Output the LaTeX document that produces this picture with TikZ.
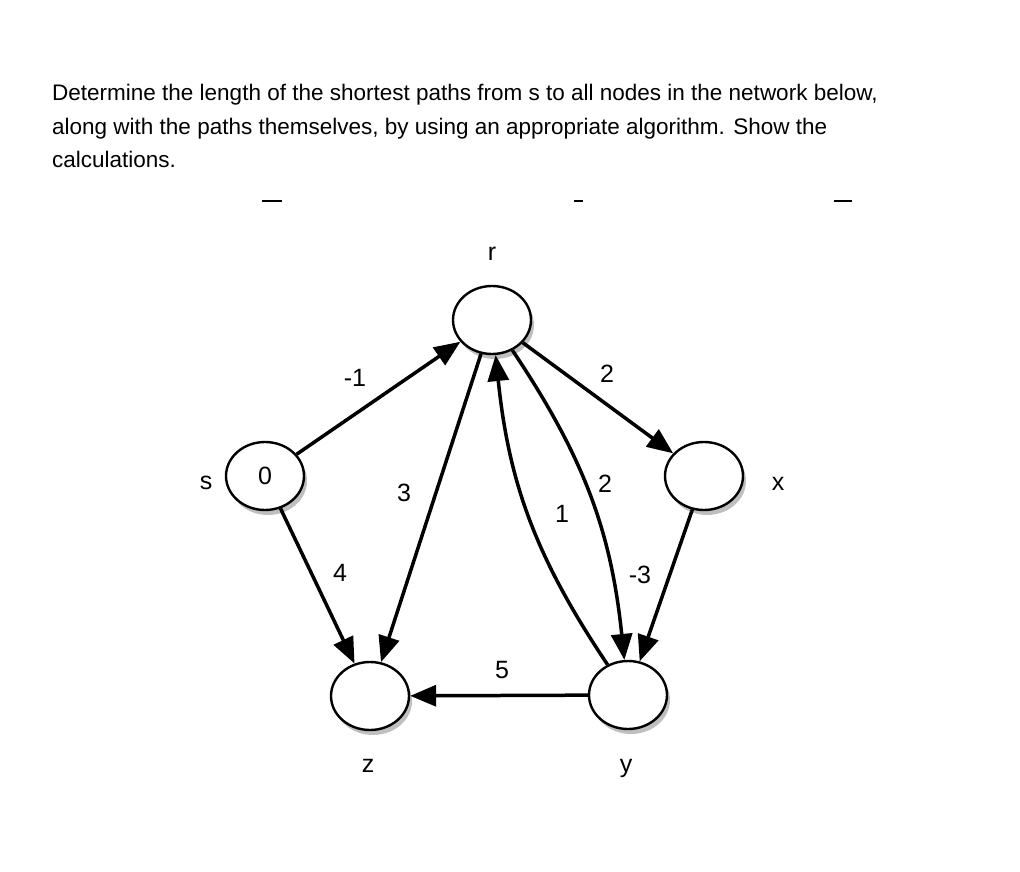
\documentclass[tikz,border=0pt]{standalone}
\usepackage{fontspec}
\setmainfont{Liberation Sans}
\usetikzlibrary{arrows.meta,shadows,shapes.geometric}
\begin{document}
\begin{tikzpicture}[x=1pt,y=-1pt,
  vert/.style={draw,line width=2.4pt,fill=white,ellipse,minimum width=78pt,minimum height=68pt,
    drop shadow={shadow xshift=3pt,shadow yshift=-5pt,opacity=0.5}},
  edge/.style={line width=3.5pt,-{Triangle[length=26pt,width=21pt]}},
  lab/.style={font=\fontsize{25}{25}\selectfont},
  txt/.style={font=\fontsize{22.5}{33.5}\selectfont,anchor=north west,align=left,inner sep=0pt}]
\useasboundingbox (0,0) rectangle (1020,872);
\node[txt] (q) at (52,84) {Determine the length of the shortest paths from s to all nodes in the network below,\\along with the paths themselves, by using an appropriate algorithm. Show the\\calculations.};
\draw[line width=2.5pt] (262,201) -- (282,201);
\draw[line width=2.5pt] (574,201) -- (583,201);
\draw[line width=2.5pt] (834,201) -- (852,201);
\node[vert,lab] (s) at (265,476) {0};
\node[vert] (r) at (492,320) {};
\node[vert] (x) at (704,476) {};
\node[vert] (z) at (370,696) {};
\node[vert] (y) at (628,695) {};
\node[lab] (ls) at (206,483) {s};
\node[lab] (lr) at (492,254) {r};
\node[lab] (lx) at (778,484) {x};
\node[lab] (lz) at (368,766) {z};
\node[lab] (ly) at (626,768) {y};
\draw[edge] (s) -- (r);
\draw[edge] (s) -- (z);
\draw[edge] (r) -- (z);
\draw[edge] (r) -- (x);
\draw[edge] (x) -- (y);
\draw[edge] (y) -- (z);
\draw[edge] (r) to[bend left=14] (y);
\draw[edge] (y) to[bend left=14] (r);
\node[lab] (e1) at (355,378) {-1};
\node[lab] (e2) at (404,493) {3};
\node[lab] (e3) at (340,573) {4};
\node[lab] (e4) at (607,374) {2};
\node[lab] (e5) at (605,484) {2};
\node[lab] (e6) at (562,514) {1};
\node[lab] (e7) at (640,575) {-3};
\node[lab] (e8) at (502,670) {5};
\end{tikzpicture}
\end{document}
